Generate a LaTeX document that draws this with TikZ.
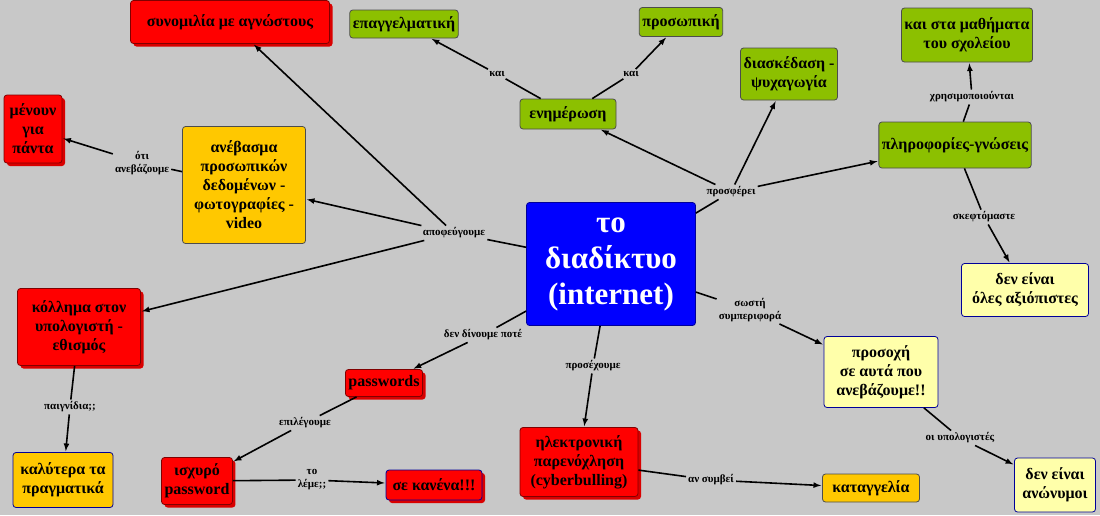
\documentclass[tikz,border=0pt]{standalone}
\usepackage{fontspec}
\setmainfont{Liberation Serif}
\usetikzlibrary{shadows}
\definecolor{bg}{RGB}{200,200,200}
\definecolor{gr}{RGB}{140,192,0}
\definecolor{org}{RGB}{255,200,0}
\definecolor{lyel}{RGB}{255,255,170}
\definecolor{rd}{RGB}{255,0,0}
\tikzset{
  box/.style={draw=black!70, rounded corners=3pt, align=center, inner sep=3pt,
    font=\fontsize{16}{19}\selectfont\bfseries, line width=0.8pt},
  green/.style={box, fill=gr},
  orange/.style={box, fill=org},
  ly/.style={box, fill=lyel, draw=blue!60!black},
  redb/.style={box, fill=rd, draw=red!50!black,
    drop shadow={shadow xshift=3pt, shadow yshift=-3pt, fill=red!85!black, opacity=1}},
  lab/.style={font=\fontsize{11}{13}\selectfont\bfseries, align=center, inner sep=2pt},
  arr/.style={->, >=latex, line width=1.6pt, shorten >=1pt},
  ln/.style={line width=1.6pt}
}
\begin{document}
\begin{tikzpicture}[x=1pt,y=-1pt]
\fill[bg] (0,0) rectangle (1100,515);
\useasboundingbox (0,0) rectangle (1100,515);
% nodes
\node[redb, minimum width=199, minimum height=43] (syn) at (230,22) {συνομιλία με αγνώστους};
\node[green, minimum width=98, minimum height=28] (epag) at (404,24) {επαγγελματική};
\node[green, minimum width=77, minimum height=29] (pros) at (681,22) {προσωπική};
\node[green, minimum width=96, minimum height=30] (enim) at (568,114) {ενημέρωση};
\node[green, minimum width=94, minimum height=52] (diask) at (789,74) {διασκέδαση -\\ψυχαγωγία};
\node[green, minimum width=125, minimum height=54] (sxol) at (967,35) {και στα μαθήματα\\του σχολείου};
\node[green, minimum width=148, minimum height=46] (plir) at (955,145) {πληροφορίες-γνώσεις};
\node[ly, minimum width=127, minimum height=53] (axio) at (1025,290) {δεν είναι\\όλες αξιόπιστες};
\node[box, fill=blue, draw=blue!60!black, text=white, minimum width=169, minimum height=123,
  font=\fontsize{31}{36}\selectfont\bfseries] (net) at (611,264) {το\\διαδίκτυο\\(internet)};
\node[redb, minimum width=58, minimum height=68] (men) at (33,129) {μένουν\\για\\πάντα};
\node[orange, minimum width=123, minimum height=117] (anev) at (244,185) {ανέβασμα\\προσωπικών\\δεδομένων -\\φωτογραφίες -\\video};
\node[redb, minimum width=123, minimum height=77] (koll) at (79,327) {κόλλημα στον\\υπολογιστή -\\εθισμός};
\node[orange, draw=blue!60!black, minimum width=100, minimum height=55] (kal) at (63,480) {καλύτερα τα\\πραγματικά};
\node[redb, minimum width=68, minimum height=27] (pass) at (384,383) {passwords};
\node[redb, minimum width=70, minimum height=47] (isx) at (197,481) {ισχυρό\\password};
\node[redb, draw=blue!60!black, drop shadow={opacity=0}, minimum width=96, minimum height=30] (kan) at (434,485) {σε κανένα!!!};
\node[redb, minimum width=118, minimum height=69] (ilek) at (579,462) {ηλεκτρονική\\παρενόχληση\\(cyberbulling)};
\node[orange, minimum width=97, minimum height=28] (kat) at (871,488) {καταγγελία};
\node[ly, minimum width=114, minimum height=71] (prosox) at (881,372) {προσοχή\\σε αυτά που\\ανεβάζουμε!!};
\node[ly, minimum width=81, minimum height=54] (anon) at (1055,485) {δεν είναι\\ανώνυμοι};
% labels
\node[lab] (l1) at (497,74) {και};
\node[lab] (l2) at (631,74) {και};
\node[lab] (l3) at (731,192) {προσφέρει};
\node[lab] (l4) at (972,97) {χρησιμοποιούνται};
\node[lab] (l5) at (984,217) {σκεφτόμαστε};
\node[lab] (l6) at (454,233) {αποφεύγουμε};
\node[lab] (l7) at (142,163) {ότι\\ανεβάζουμε};
\node[lab] (l8) at (483,335) {δεν δίνουμε ποτέ};
\node[lab] (l9) at (70,407) {παιγνίδια;;};
\node[lab] (l10) at (305,423) {επιλέγουμε};
\node[lab] (l11) at (312,480) {το\\λέμε;;};
\node[lab] (l12) at (593,366) {προσέχουμε};
\node[lab] (l13) at (750,310) {σωστή\\συμπεριφορά};
\node[lab] (l14) at (711,480) {αν συμβεί};
\node[lab] (l15) at (960,438) {οι υπολογιστές};
% connectors
\draw[ln] (enim) -- (l1); \draw[arr] (l1) -- (epag);
\draw[ln] (enim) -- (l2); \draw[arr] (l2) -- (pros);
\draw[ln] (net) -- (l3);
\draw[arr] (l3) -- (enim); \draw[arr] (l3) -- (diask); \draw[arr] (l3) -- (plir);
\draw[ln] (plir) -- (l4); \draw[arr] (l4) -- (sxol);
\draw[ln] (plir) -- (l5); \draw[arr] (l5) -- (axio);
\draw[ln] (net) -- (l6);
\draw[arr] (l6) -- (syn); \draw[arr] (l6) -- (anev); \draw[arr] (l6) -- (koll);
\draw[ln] (anev) -- (l7); \draw[arr] (l7) -- (men);
\draw[ln] (net) -- (l8); \draw[arr] (l8) -- (pass);
\draw[ln] (koll) -- (l9); \draw[arr] (l9) -- (kal);
\draw[ln] (pass) -- (l10); \draw[arr] (l10) -- (isx);
\draw[ln] (isx) -- (l11); \draw[arr] (l11) -- (kan);
\draw[ln] (net) -- (l12); \draw[arr] (l12) -- (ilek);
\draw[ln] (ilek) -- (l14); \draw[arr] (l14) -- (kat);
\draw[ln] (net) -- (l13); \draw[arr] (l13) -- (prosox);
\draw[ln] (prosox) -- (l15); \draw[arr] (l15) -- (anon);
\end{tikzpicture}
\end{document}
